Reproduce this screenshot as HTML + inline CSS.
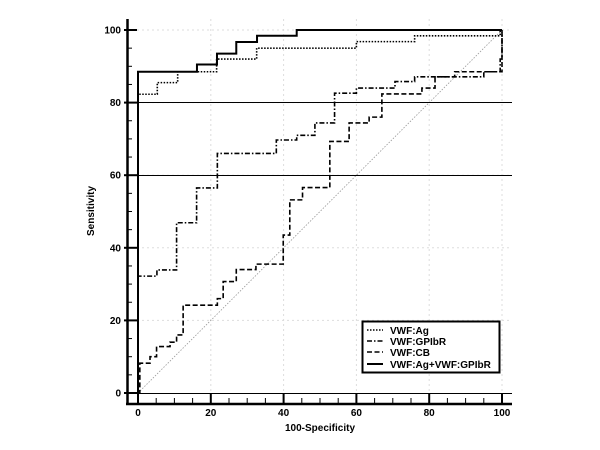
<!DOCTYPE html>
<html><head><meta charset="utf-8"><style>
html,body{margin:0;padding:0;background:#fff;}
svg{display:block;font-family:"Liberation Sans",Arial,sans-serif;font-weight:bold;}
</style></head><body>
<svg id="s" width="600" height="450" viewBox="0 0 600 450" xmlns="http://www.w3.org/2000/svg">
<rect width="600" height="450" fill="#fff"/>
<g id="grid" stroke="#ddd" stroke-width="1" stroke-dasharray="2,3"></g>
<line x1="138" y1="393" x2="502" y2="30" stroke="#999" stroke-width="0.8" stroke-dasharray="1.5,1.5"/>
<g stroke="#000" stroke-width="1">
<line x1="127" y1="393.5" x2="512" y2="393.5"/>
<line x1="127" y1="175.5" x2="512" y2="175.5"/>
<line x1="127" y1="102.5" x2="512" y2="102.5"/>
</g>
<g id="curves" fill="none" stroke="#000"></g>
<g id="axes" stroke="#000"></g>
<g id="lbl" font-size="10" fill="#000"></g>
<text x="320" y="431" font-size="10" text-anchor="middle">100-Specificity</text>
<text transform="translate(94,211) rotate(-90)" font-size="10" text-anchor="middle">Sensitivity</text>
<rect x="362.5" y="321.5" width="137" height="51" fill="#fff" stroke="#000" stroke-width="2"/>
<g stroke="#000" stroke-width="1.6">
<line x1="367" y1="330" x2="383" y2="330" stroke-dasharray="1.5,1.5"/>
<line x1="367" y1="341" x2="383" y2="341" stroke-dasharray="5,2,1.5,2"/>
<line x1="367" y1="352" x2="383" y2="352" stroke-dasharray="5,2.5"/>
<line x1="367" y1="364" x2="383" y2="364" stroke-width="2"/>
</g>
<g font-size="10" fill="#000">
<text x="390" y="334">VWF:Ag</text>
<text x="390" y="345">VWF:GPIbR</text>
<text x="390" y="356">VWF:CB</text>
<text x="390" y="368">VWF:Ag+VWF:GPIbR</text>
</g>
</svg>
<script>
var NS="http://www.w3.org/2000/svg";
function X(v){return 138+v*3.64;}function Y(v){return 393-v*3.63;}
function el(p,t,a){var e=document.createElementNS(NS,t);for(var k in a)e.setAttribute(k,a[k]);document.getElementById(p).appendChild(e);return e;}
for(var i=20;i<=100;i+=20){el("grid","line",{x1:X(i),y1:19,x2:X(i),y2:404});el("grid","line",{x1:127,y1:Y(i),x2:512,y2:Y(i)});}
function step(pts){var d="M"+X(pts[0][0])+","+Y(pts[0][1]);for(var i=1;i<pts.length;i++){d+=" L"+X(pts[i][0])+","+Y(pts[i-1][1])+" L"+X(pts[i][0])+","+Y(pts[i][1]);}return d;}
var comb=[[0,0],[0,88.5],[16.2,90.5],[21.7,93.5],[27,96.7],[32.7,98.4],[43.6,100],[100,100]];
var ag=[[0,0],[0,82.3],[5.3,85.5],[10.9,88.5],[21.6,92],[32.6,95],[60,96.8],[76,98.4],[99.5,100]];
var gp=[[0,0],[0,32.2],[5.2,33.9],[10.6,46.9],[16.1,56.5],[21.8,66],[38,69.7],[43.6,71],[48.6,74.4],[54,82.6],[60,84],[70.6,85.8],[76,87.1],[95,88.5],[99.5,92],[100,100]];
var cb=[[0,0],[0.5,8.2],[3.3,10],[5.1,12.8],[8.8,14],[10.6,16],[12.4,24.2],[21.8,26],[23.4,30.7],[27,34],[32.4,35.5],[39.9,43.5],[41.7,53.2],[45.2,56.6],[52.7,69.3],[58,74.4],[63.5,76],[67,82.4],[78,84],[81.6,87.1],[87,88.5],[99.5,88.5],[100,100]];
el("curves","path",{d:step(cb),"stroke-width":1.6,"stroke-dasharray":"5,2.5"});
el("curves","path",{d:step(gp),"stroke-width":1.6,"stroke-dasharray":"5,2,1.5,2"});
el("curves","path",{d:step(ag),"stroke-width":1.6,"stroke-dasharray":"1.5,1.5"});
el("curves","path",{d:step(comb),"stroke-width":2});
el("axes","line",{x1:127.5,y1:19,x2:127.5,y2:405,"stroke-width":2.5});
el("axes","line",{x1:126,y1:404,x2:512,y2:404,"stroke-width":2.5});
for(var v=0;v<=100;v+=5){var mj=v%20==0;
 el("axes","line",{x1:mj?124:127,y1:Y(v),x2:mj?137:132,y2:Y(v),"stroke-width":mj?2:1});
 el("axes","line",{x1:X(v),y1:mj?393:398,x2:X(v),y2:404,"stroke-width":mj?2:1});
 if(mj){var t=el("lbl","text",{x:121,y:Y(v)+3.5,"text-anchor":"end"});t.textContent=v;
 var u=el("lbl","text",{x:X(v),y:416,"text-anchor":"middle"});u.textContent=v;}}
</script>
</body></html>
